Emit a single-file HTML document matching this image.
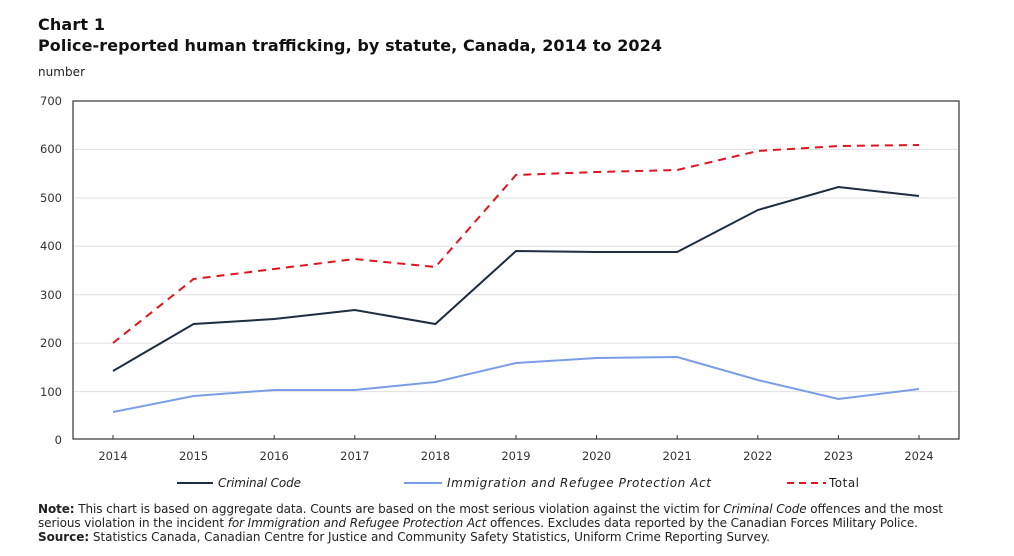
<!DOCTYPE html>
<html><head><meta charset="utf-8"><style>
html,body{margin:0;padding:0;background:#fff;}
svg{display:block;font-family:"DejaVu Sans","Liberation Sans",sans-serif;}
</style></head><body>
<svg width="1014" height="556" viewBox="0 0 1014 556" xmlns="http://www.w3.org/2000/svg">
<text x="38" y="30" font-size="16" font-weight="bold" fill="#111" textLength="67">Chart 1</text>
<text x="38" y="51" font-size="16" font-weight="bold" fill="#111" textLength="624">Police-reported  human trafficking,  by statute, Canada, 2014 to 2024</text>
<text x="38" y="76" font-size="12" fill="#222" textLength="47">number</text>
<g stroke="#e0e0e0" stroke-width="1">
<line x1="73" x2="959" y1="149.4" y2="149.4"/>
<line x1="73" x2="959" y1="197.9" y2="197.9"/>
<line x1="73" x2="959" y1="246.3" y2="246.3"/>
<line x1="73" x2="959" y1="294.7" y2="294.7"/>
<line x1="73" x2="959" y1="343.1" y2="343.1"/>
<line x1="73" x2="959" y1="391.6" y2="391.6"/>
</g>
<rect x="73" y="101" width="886" height="338" fill="none" stroke="#333" stroke-width="1.2"/>
<g font-size="11.5" fill="#333" text-anchor="end">
<text x="62" y="105">700</text><text x="62" y="153">600</text><text x="62" y="202">500</text>
<text x="62" y="250">400</text><text x="62" y="299">300</text><text x="62" y="347">200</text>
<text x="62" y="396">100</text><text x="62" y="444">0</text>
</g>
<g stroke="#333" stroke-width="1">
<line x1="113" x2="113" y1="439" y2="435"/><line x1="193.6" x2="193.6" y1="439" y2="435"/>
<line x1="274.2" x2="274.2" y1="439" y2="435"/><line x1="354.8" x2="354.8" y1="439" y2="435"/>
<line x1="435.4" x2="435.4" y1="439" y2="435"/><line x1="516" x2="516" y1="439" y2="435"/>
<line x1="596.6" x2="596.6" y1="439" y2="435"/><line x1="677.2" x2="677.2" y1="439" y2="435"/>
<line x1="757.8" x2="757.8" y1="439" y2="435"/><line x1="838.4" x2="838.4" y1="439" y2="435"/>
<line x1="919" x2="919" y1="439" y2="435"/>
</g>
<g font-size="11.5" fill="#333" text-anchor="middle">
<text x="113" y="460">2014</text><text x="193.6" y="460">2015</text><text x="274.2" y="460">2016</text>
<text x="354.8" y="460">2017</text><text x="435.4" y="460">2018</text><text x="516" y="460">2019</text>
<text x="596.6" y="460">2020</text><text x="677.2" y="460">2021</text><text x="757.8" y="460">2022</text>
<text x="838.4" y="460">2023</text><text x="919" y="460">2024</text>
</g>
<polyline fill="none" stroke="#7b9de8" stroke-width="2" points="113,412 193.6,396 274.2,390 354.8,390 435.4,382 516,363 596.6,358 677.2,357 757.8,380 838.4,399 919,389"/>
<polyline fill="none" stroke="#1e2d40" stroke-width="2" points="113,371 193.6,324 274.2,319 354.8,310 435.4,324 516,251 596.6,252 677.2,252 757.8,210 838.4,187 919,196"/>
<polyline fill="none" stroke="#e0141e" stroke-width="2" stroke-dasharray="8,6" points="113,343 193.6,279 274.2,269 354.8,259 435.4,267 516,175 596.6,172 677.2,170 757.8,151 838.4,146 919,145"/>
<line x1="177" x2="213" y1="483" y2="483" stroke="#1e2d40" stroke-width="2"/>
<text x="218" y="487" font-size="12" font-style="italic" fill="#222" textLength="83">Criminal Code</text>
<line x1="404" x2="442" y1="483" y2="483" stroke="#7b9de8" stroke-width="2"/>
<text x="447" y="487" font-size="12" font-style="italic" fill="#222" textLength="264">Immigration and Refugee Protection Act</text>
<line x1="787" x2="826" y1="483" y2="483" stroke="#e0141e" stroke-width="2" stroke-dasharray="7,5"/>
<text x="829" y="487" font-size="12" fill="#222" textLength="30">Total</text>
<text x="38" y="513" font-size="12" fill="#222" textLength="905"><tspan font-weight="bold">Note:</tspan> This chart is based on aggregate data. Counts are based on the most serious violation against the victim for <tspan font-style="italic">Criminal Code</tspan> offences and the most</text>
<text x="38" y="527" font-size="12" fill="#222" textLength="880">serious violation in the incident <tspan font-style="italic">for Immigration and Refugee Protection Act</tspan> offences. Excludes data reported by the Canadian Forces Military Police.</text>
<text x="38" y="541" font-size="12" fill="#222" textLength="732"><tspan font-weight="bold">Source:</tspan> Statistics Canada, Canadian Centre for Justice and Community Safety Statistics, Uniform Crime Reporting Survey.</text>
</svg>
</body></html>
